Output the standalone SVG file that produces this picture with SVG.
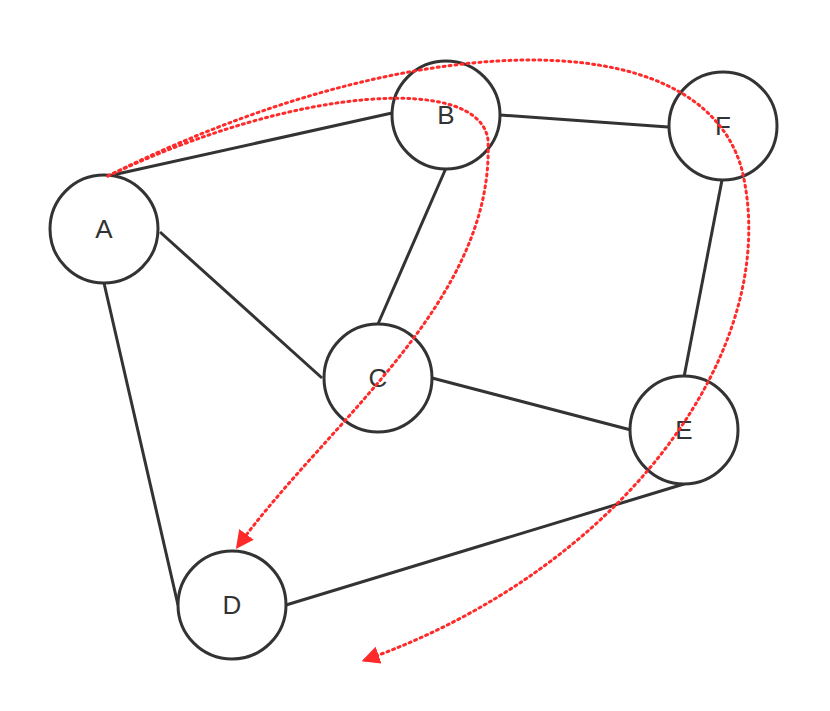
<svg xmlns="http://www.w3.org/2000/svg" width="830" height="711" viewBox="0 0 830 711">
<style>
.n{fill:#fff;stroke:#333;stroke-width:3}
.t{font-family:"Liberation Sans",Arial,sans-serif;font-size:26px;fill:#333;text-anchor:middle;dominant-baseline:central}
.e{stroke:#333;stroke-width:3;fill:none}
.r{stroke:#ff2a2a;stroke-width:3;fill:none;stroke-dasharray:2 4;stroke-linecap:round}
</style>
<defs><marker id="ah" viewBox="0 0 10 10" refX="8" refY="5" markerWidth="6" markerHeight="6" orient="auto"><path d="M0,0L10,5L0,10z" fill="#ff2a2a"/></marker></defs>
<rect width="830" height="711" fill="#fff"/>
<g id="edges">
<line class="e" x1="108" y1="176" x2="392" y2="113"/>
<line class="e" x1="500" y1="115" x2="668" y2="127"/>
<line class="e" x1="160" y1="232" x2="322" y2="378"/>
<line class="e" x1="446" y1="168" x2="378" y2="324"/>
<line class="e" x1="432" y1="378" x2="631" y2="430"/>
<line class="e" x1="722" y1="180" x2="684" y2="377"/>
<line class="e" x1="104" y1="283" x2="178" y2="605"/>
<line class="e" x1="286" y1="605" x2="684" y2="484"/>
</g>
<g id="A"><circle class="n" cx="104" cy="229" r="54"/><text class="t" x="104" y="229">A</text></g>
<g id="B"><circle class="n" cx="446" cy="115" r="54"/><text class="t" x="446" y="115">B</text></g>
<g id="F"><circle class="n" cx="723" cy="126" r="54"/><text class="t" x="723" y="126">F</text></g>
<g id="C"><circle class="n" cx="378" cy="378" r="54"/><text class="t" x="378" y="378">C</text></g>
<g id="E"><circle class="n" cx="684" cy="430" r="54"/><text class="t" x="684" y="430">E</text></g>
<g id="D"><circle class="n" cx="232" cy="605" r="54"/><text class="t" x="232" y="605">D</text></g>
<g id="paths">
<path class="r" d="M108,176 C300,85 480,75 488,140 C495,300 330,420 238,546" marker-end="url(#ah)"/>
<path class="r" d="M108,176 C400,30 700,15 742,170 C785,350 620,570 365,660" marker-end="url(#ah)"/>
</g>
</svg>
